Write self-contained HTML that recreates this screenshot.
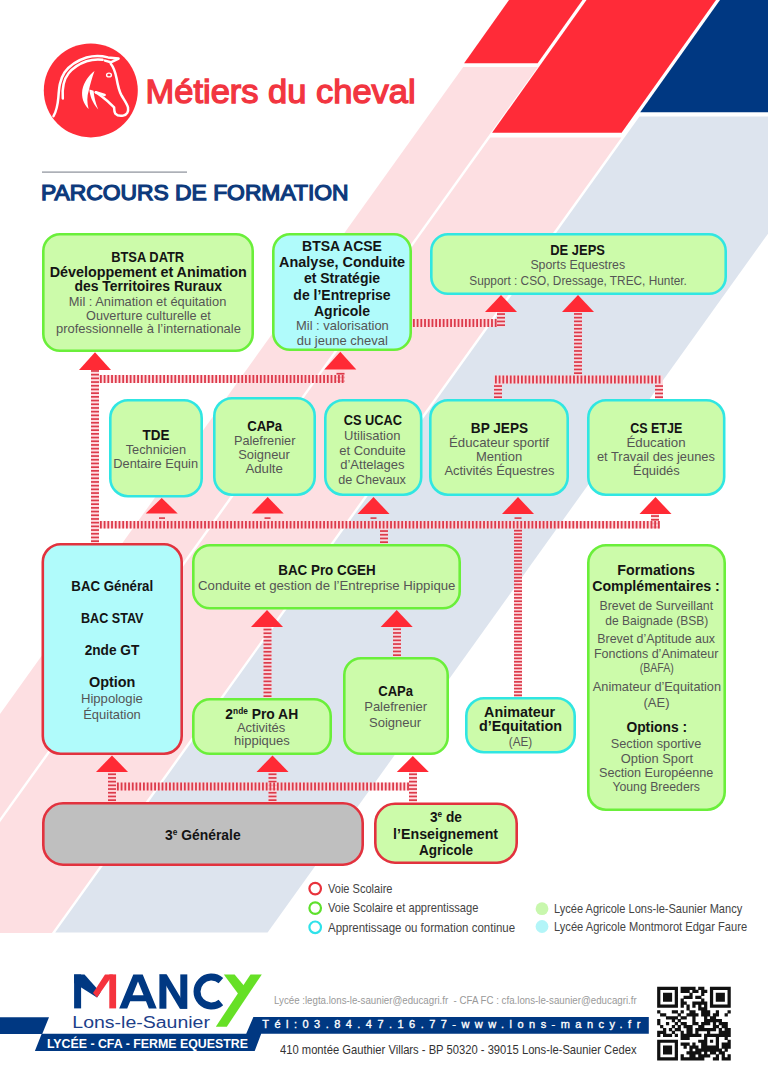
<!DOCTYPE html>
<html><head><meta charset="utf-8">
<style>
html,body{margin:0;padding:0;}
body{width:768px;height:1087px;position:relative;overflow:hidden;background:#fff;font-family:"Liberation Sans",sans-serif;}
.abs{position:absolute;}
.box{position:absolute;box-sizing:border-box;border:2.5px solid;}
.vst{position:absolute;background:repeating-linear-gradient(180deg,#dc3a4a 0 1.7px,#ffd0d5 1.7px 3.36px);}
.hst{position:absolute;background:repeating-linear-gradient(90deg,#dc3a4a 0 2px,#ffd0d5 2px 3.67px);}
.tl{position:absolute;width:400px;text-align:center;line-height:1;white-space:nowrap;}
.ll{position:absolute;line-height:1;white-space:nowrap;}
sup{font-size:0.6em;vertical-align:0;position:relative;top:-0.55em;line-height:0;}
</style></head><body>
<svg class="abs" style="left:0;top:0" width="768" height="1087" viewBox="0 0 768 1087"><polygon points="509.0,0.0 582.5,0.0 537.6,63.2 464.1,63.2" fill="#ff2b38"/><polygon points="463.2,67.0 537.8,67.0 -82.2,933.0 -156.8,933.0" fill="#fddfe2"/><polygon points="586.5,0.0 716.0,0.0 621.6,132.8 492.1,132.8" fill="#ff2b38"/><polygon points="490.3,137.5 621.4,137.5 51.9,933.0 -79.2,933.0" fill="#fddfe2"/><polygon points="720.0,0.0 936.9,0.0 856.3,112.2 640.2,112.2" fill="#003882"/><polygon points="639.5,116.5 851.9,116.5 267.6,932.5 55.2,932.5" fill="#dde4ee"/></svg>
<svg class="abs" style="left:0;top:0" width="768" height="1087"><rect x="43.30" y="234.30" width="209.40" height="116.40" rx="16.7" fill="#ccfbaa" stroke="#6aef3a" stroke-width="2.6"/><rect x="273.30" y="234.30" width="137.40" height="115.40" rx="16.7" fill="#b0fbfb" stroke="#6aef3a" stroke-width="2.6"/><rect x="431.30" y="234.30" width="294.40" height="59.40" rx="16.7" fill="#ccfbaa" stroke="#30e6e2" stroke-width="2.6"/><rect x="110.30" y="400.30" width="91.40" height="95.90" rx="17.7" fill="#ccfbaa" stroke="#30e6e2" stroke-width="2.6"/><rect x="214.30" y="398.30" width="100.40" height="96.40" rx="17.7" fill="#ccfbaa" stroke="#30e6e2" stroke-width="2.6"/><rect x="325.30" y="400.30" width="95.90" height="94.40" rx="17.7" fill="#ccfbaa" stroke="#30e6e2" stroke-width="2.6"/><rect x="430.30" y="400.30" width="137.40" height="94.40" rx="17.7" fill="#ccfbaa" stroke="#30e6e2" stroke-width="2.6"/><rect x="588.30" y="400.30" width="135.90" height="94.40" rx="17.7" fill="#ccfbaa" stroke="#30e6e2" stroke-width="2.6"/><rect x="42.80" y="544.30" width="138.90" height="209.40" rx="17.7" fill="#b0fbfb" stroke="#e2323e" stroke-width="2.6"/><rect x="193.30" y="545.30" width="266.40" height="62.90" rx="16.7" fill="#ccfbaa" stroke="#6aef3a" stroke-width="2.6"/><rect x="193.30" y="699.30" width="137.40" height="54.40" rx="16.7" fill="#ccfbaa" stroke="#6aef3a" stroke-width="2.6"/><rect x="344.30" y="658.30" width="103.40" height="95.40" rx="16.7" fill="#ccfbaa" stroke="#6aef3a" stroke-width="2.6"/><rect x="466.30" y="698.30" width="108.40" height="53.90" rx="17.7" fill="#ccfbaa" stroke="#30e6e2" stroke-width="2.6"/><rect x="588.30" y="545.30" width="136.40" height="264.40" rx="17.7" fill="#ccfbaa" stroke="#6aef3a" stroke-width="2.6"/><rect x="43.30" y="803.30" width="319.40" height="61.40" rx="19.7" fill="#bfbfbf" stroke="#e2323e" stroke-width="2.6"/><rect x="375.30" y="803.80" width="141.40" height="58.90" rx="19.7" fill="#ccfbaa" stroke="#e2323e" stroke-width="2.6"/></svg>
<svg class="abs" style="left:0;top:0" width="768" height="1087"><g fill="#dc3a4a"><rect x="91.00" y="370.00" width="8.00" height="173.00" fill="#ffd3d8" opacity="0.75"/><rect x="91.00" y="540.30" width="8.00" height="1.70"/><rect x="91.00" y="536.60" width="8.00" height="1.70"/><rect x="91.00" y="532.90" width="8.00" height="1.70"/><rect x="91.00" y="529.20" width="8.00" height="1.70"/><rect x="91.00" y="525.50" width="8.00" height="1.70"/><rect x="91.00" y="521.80" width="8.00" height="1.70"/><rect x="91.00" y="518.10" width="8.00" height="1.70"/><rect x="91.00" y="514.40" width="8.00" height="1.70"/><rect x="91.00" y="510.70" width="8.00" height="1.70"/><rect x="91.00" y="507.00" width="8.00" height="1.70"/><rect x="91.00" y="503.30" width="8.00" height="1.70"/><rect x="91.00" y="499.60" width="8.00" height="1.70"/><rect x="91.00" y="495.90" width="8.00" height="1.70"/><rect x="91.00" y="492.20" width="8.00" height="1.70"/><rect x="91.00" y="488.50" width="8.00" height="1.70"/><rect x="91.00" y="484.80" width="8.00" height="1.70"/><rect x="91.00" y="481.10" width="8.00" height="1.70"/><rect x="91.00" y="477.40" width="8.00" height="1.70"/><rect x="91.00" y="473.70" width="8.00" height="1.70"/><rect x="91.00" y="470.00" width="8.00" height="1.70"/><rect x="91.00" y="466.30" width="8.00" height="1.70"/><rect x="91.00" y="462.60" width="8.00" height="1.70"/><rect x="91.00" y="458.90" width="8.00" height="1.70"/><rect x="91.00" y="455.20" width="8.00" height="1.70"/><rect x="91.00" y="451.50" width="8.00" height="1.70"/><rect x="91.00" y="447.80" width="8.00" height="1.70"/><rect x="91.00" y="444.10" width="8.00" height="1.70"/><rect x="91.00" y="440.40" width="8.00" height="1.70"/><rect x="91.00" y="436.70" width="8.00" height="1.70"/><rect x="91.00" y="433.00" width="8.00" height="1.70"/><rect x="91.00" y="429.30" width="8.00" height="1.70"/><rect x="91.00" y="425.60" width="8.00" height="1.70"/><rect x="91.00" y="421.90" width="8.00" height="1.70"/><rect x="91.00" y="418.20" width="8.00" height="1.70"/><rect x="91.00" y="414.50" width="8.00" height="1.70"/><rect x="91.00" y="410.80" width="8.00" height="1.70"/><rect x="91.00" y="407.10" width="8.00" height="1.70"/><rect x="91.00" y="403.40" width="8.00" height="1.70"/><rect x="91.00" y="399.70" width="8.00" height="1.70"/><rect x="91.00" y="396.00" width="8.00" height="1.70"/><rect x="91.00" y="392.30" width="8.00" height="1.70"/><rect x="91.00" y="388.60" width="8.00" height="1.70"/><rect x="91.00" y="384.90" width="8.00" height="1.70"/><rect x="91.00" y="381.20" width="8.00" height="1.70"/><rect x="91.00" y="377.50" width="8.00" height="1.70"/><rect x="91.00" y="373.80" width="8.00" height="1.70"/><rect x="91.00" y="370.10" width="8.00" height="1.70"/><rect x="336.50" y="370.00" width="8.00" height="13.00" fill="#ffd3d8" opacity="0.75"/><rect x="336.50" y="380.30" width="8.00" height="1.70"/><rect x="336.50" y="376.60" width="8.00" height="1.70"/><rect x="336.50" y="372.90" width="8.00" height="1.70"/><rect x="497.00" y="312.00" width="8.00" height="15.00" fill="#ffd3d8" opacity="0.75"/><rect x="497.00" y="324.30" width="8.00" height="1.70"/><rect x="497.00" y="320.60" width="8.00" height="1.70"/><rect x="497.00" y="316.90" width="8.00" height="1.70"/><rect x="497.00" y="313.20" width="8.00" height="1.70"/><rect x="574.00" y="312.00" width="8.00" height="63.00" fill="#ffd3d8" opacity="0.75"/><rect x="574.00" y="372.30" width="8.00" height="1.70"/><rect x="574.00" y="368.60" width="8.00" height="1.70"/><rect x="574.00" y="364.90" width="8.00" height="1.70"/><rect x="574.00" y="361.20" width="8.00" height="1.70"/><rect x="574.00" y="357.50" width="8.00" height="1.70"/><rect x="574.00" y="353.80" width="8.00" height="1.70"/><rect x="574.00" y="350.10" width="8.00" height="1.70"/><rect x="574.00" y="346.40" width="8.00" height="1.70"/><rect x="574.00" y="342.70" width="8.00" height="1.70"/><rect x="574.00" y="339.00" width="8.00" height="1.70"/><rect x="574.00" y="335.30" width="8.00" height="1.70"/><rect x="574.00" y="331.60" width="8.00" height="1.70"/><rect x="574.00" y="327.90" width="8.00" height="1.70"/><rect x="574.00" y="324.20" width="8.00" height="1.70"/><rect x="574.00" y="320.50" width="8.00" height="1.70"/><rect x="574.00" y="316.80" width="8.00" height="1.70"/><rect x="574.00" y="313.10" width="8.00" height="1.70"/><rect x="494.00" y="383.00" width="8.00" height="16.00" fill="#ffd3d8" opacity="0.75"/><rect x="494.00" y="396.30" width="8.00" height="1.70"/><rect x="494.00" y="392.60" width="8.00" height="1.70"/><rect x="494.00" y="388.90" width="8.00" height="1.70"/><rect x="494.00" y="385.20" width="8.00" height="1.70"/><rect x="655.00" y="383.00" width="8.00" height="16.00" fill="#ffd3d8" opacity="0.75"/><rect x="655.00" y="396.30" width="8.00" height="1.70"/><rect x="655.00" y="392.60" width="8.00" height="1.70"/><rect x="655.00" y="388.90" width="8.00" height="1.70"/><rect x="655.00" y="385.20" width="8.00" height="1.70"/><rect x="380.00" y="528.50" width="8.00" height="15.50" fill="#ffd3d8" opacity="0.75"/><rect x="380.00" y="541.30" width="8.00" height="1.70"/><rect x="380.00" y="537.60" width="8.00" height="1.70"/><rect x="380.00" y="533.90" width="8.00" height="1.70"/><rect x="380.00" y="530.20" width="8.00" height="1.70"/><rect x="514.00" y="528.50" width="8.00" height="168.50" fill="#ffd3d8" opacity="0.75"/><rect x="514.00" y="694.47" width="8.00" height="1.70"/><rect x="514.00" y="691.11" width="8.00" height="1.70"/><rect x="514.00" y="687.75" width="8.00" height="1.70"/><rect x="514.00" y="684.39" width="8.00" height="1.70"/><rect x="514.00" y="681.03" width="8.00" height="1.70"/><rect x="514.00" y="677.67" width="8.00" height="1.70"/><rect x="514.00" y="674.31" width="8.00" height="1.70"/><rect x="514.00" y="670.95" width="8.00" height="1.70"/><rect x="514.00" y="667.59" width="8.00" height="1.70"/><rect x="514.00" y="664.23" width="8.00" height="1.70"/><rect x="514.00" y="660.87" width="8.00" height="1.70"/><rect x="514.00" y="657.51" width="8.00" height="1.70"/><rect x="514.00" y="654.15" width="8.00" height="1.70"/><rect x="514.00" y="650.79" width="8.00" height="1.70"/><rect x="514.00" y="647.43" width="8.00" height="1.70"/><rect x="514.00" y="644.07" width="8.00" height="1.70"/><rect x="514.00" y="640.71" width="8.00" height="1.70"/><rect x="514.00" y="637.35" width="8.00" height="1.70"/><rect x="514.00" y="633.99" width="8.00" height="1.70"/><rect x="514.00" y="630.63" width="8.00" height="1.70"/><rect x="514.00" y="627.27" width="8.00" height="1.70"/><rect x="514.00" y="623.91" width="8.00" height="1.70"/><rect x="514.00" y="620.55" width="8.00" height="1.70"/><rect x="514.00" y="617.19" width="8.00" height="1.70"/><rect x="514.00" y="613.83" width="8.00" height="1.70"/><rect x="514.00" y="610.47" width="8.00" height="1.70"/><rect x="514.00" y="607.11" width="8.00" height="1.70"/><rect x="514.00" y="603.75" width="8.00" height="1.70"/><rect x="514.00" y="600.39" width="8.00" height="1.70"/><rect x="514.00" y="597.03" width="8.00" height="1.70"/><rect x="514.00" y="593.67" width="8.00" height="1.70"/><rect x="514.00" y="590.31" width="8.00" height="1.70"/><rect x="514.00" y="586.95" width="8.00" height="1.70"/><rect x="514.00" y="583.59" width="8.00" height="1.70"/><rect x="514.00" y="580.23" width="8.00" height="1.70"/><rect x="514.00" y="576.87" width="8.00" height="1.70"/><rect x="514.00" y="573.51" width="8.00" height="1.70"/><rect x="514.00" y="570.15" width="8.00" height="1.70"/><rect x="514.00" y="566.79" width="8.00" height="1.70"/><rect x="514.00" y="563.43" width="8.00" height="1.70"/><rect x="514.00" y="560.07" width="8.00" height="1.70"/><rect x="514.00" y="556.71" width="8.00" height="1.70"/><rect x="514.00" y="553.35" width="8.00" height="1.70"/><rect x="514.00" y="549.99" width="8.00" height="1.70"/><rect x="514.00" y="546.63" width="8.00" height="1.70"/><rect x="514.00" y="543.27" width="8.00" height="1.70"/><rect x="514.00" y="539.91" width="8.00" height="1.70"/><rect x="514.00" y="536.55" width="8.00" height="1.70"/><rect x="514.00" y="533.19" width="8.00" height="1.70"/><rect x="514.00" y="529.83" width="8.00" height="1.70"/><rect x="651.00" y="514.00" width="8.00" height="15.00" fill="#ffd3d8" opacity="0.75"/><rect x="651.00" y="526.30" width="8.00" height="1.70"/><rect x="651.00" y="522.60" width="8.00" height="1.70"/><rect x="651.00" y="518.90" width="8.00" height="1.70"/><rect x="651.00" y="515.20" width="8.00" height="1.70"/><rect x="263.50" y="627.00" width="8.00" height="71.00" fill="#ffd3d8" opacity="0.75"/><rect x="263.50" y="695.30" width="8.00" height="1.70"/><rect x="263.50" y="691.60" width="8.00" height="1.70"/><rect x="263.50" y="687.90" width="8.00" height="1.70"/><rect x="263.50" y="684.20" width="8.00" height="1.70"/><rect x="263.50" y="680.50" width="8.00" height="1.70"/><rect x="263.50" y="676.80" width="8.00" height="1.70"/><rect x="263.50" y="673.10" width="8.00" height="1.70"/><rect x="263.50" y="669.40" width="8.00" height="1.70"/><rect x="263.50" y="665.70" width="8.00" height="1.70"/><rect x="263.50" y="662.00" width="8.00" height="1.70"/><rect x="263.50" y="658.30" width="8.00" height="1.70"/><rect x="263.50" y="654.60" width="8.00" height="1.70"/><rect x="263.50" y="650.90" width="8.00" height="1.70"/><rect x="263.50" y="647.20" width="8.00" height="1.70"/><rect x="263.50" y="643.50" width="8.00" height="1.70"/><rect x="263.50" y="639.80" width="8.00" height="1.70"/><rect x="263.50" y="636.10" width="8.00" height="1.70"/><rect x="263.50" y="632.40" width="8.00" height="1.70"/><rect x="263.50" y="628.70" width="8.00" height="1.70"/><rect x="393.00" y="627.00" width="8.00" height="30.00" fill="#ffd3d8" opacity="0.75"/><rect x="393.00" y="654.30" width="8.00" height="1.70"/><rect x="393.00" y="650.60" width="8.00" height="1.70"/><rect x="393.00" y="646.90" width="8.00" height="1.70"/><rect x="393.00" y="643.20" width="8.00" height="1.70"/><rect x="393.00" y="639.50" width="8.00" height="1.70"/><rect x="393.00" y="635.80" width="8.00" height="1.70"/><rect x="393.00" y="632.10" width="8.00" height="1.70"/><rect x="393.00" y="628.40" width="8.00" height="1.70"/><rect x="108.00" y="772.00" width="8.00" height="30.00" fill="#ffd3d8" opacity="0.75"/><rect x="108.00" y="799.30" width="8.00" height="1.70"/><rect x="108.00" y="795.60" width="8.00" height="1.70"/><rect x="108.00" y="791.90" width="8.00" height="1.70"/><rect x="108.00" y="788.20" width="8.00" height="1.70"/><rect x="108.00" y="784.50" width="8.00" height="1.70"/><rect x="108.00" y="780.80" width="8.00" height="1.70"/><rect x="108.00" y="777.10" width="8.00" height="1.70"/><rect x="108.00" y="773.40" width="8.00" height="1.70"/><rect x="268.50" y="772.00" width="8.00" height="30.00" fill="#ffd3d8" opacity="0.75"/><rect x="268.50" y="799.30" width="8.00" height="1.70"/><rect x="268.50" y="795.60" width="8.00" height="1.70"/><rect x="268.50" y="791.90" width="8.00" height="1.70"/><rect x="268.50" y="788.20" width="8.00" height="1.70"/><rect x="268.50" y="784.50" width="8.00" height="1.70"/><rect x="268.50" y="780.80" width="8.00" height="1.70"/><rect x="268.50" y="777.10" width="8.00" height="1.70"/><rect x="268.50" y="773.40" width="8.00" height="1.70"/><rect x="409.00" y="772.00" width="8.00" height="30.00" fill="#ffd3d8" opacity="0.75"/><rect x="409.00" y="799.30" width="8.00" height="1.70"/><rect x="409.00" y="795.60" width="8.00" height="1.70"/><rect x="409.00" y="791.90" width="8.00" height="1.70"/><rect x="409.00" y="788.20" width="8.00" height="1.70"/><rect x="409.00" y="784.50" width="8.00" height="1.70"/><rect x="409.00" y="780.80" width="8.00" height="1.70"/><rect x="409.00" y="777.10" width="8.00" height="1.70"/><rect x="409.00" y="773.40" width="8.00" height="1.70"/><rect x="99.00" y="375.00" width="245.50" height="8.00" fill="#ffd3d8" opacity="0.75"/><rect x="99.96" y="375.00" width="1.80" height="8.00"/><rect x="103.68" y="375.00" width="1.80" height="8.00"/><rect x="107.40" y="375.00" width="1.80" height="8.00"/><rect x="111.12" y="375.00" width="1.80" height="8.00"/><rect x="114.84" y="375.00" width="1.80" height="8.00"/><rect x="118.56" y="375.00" width="1.80" height="8.00"/><rect x="122.28" y="375.00" width="1.80" height="8.00"/><rect x="126.00" y="375.00" width="1.80" height="8.00"/><rect x="129.72" y="375.00" width="1.80" height="8.00"/><rect x="133.44" y="375.00" width="1.80" height="8.00"/><rect x="137.16" y="375.00" width="1.80" height="8.00"/><rect x="140.88" y="375.00" width="1.80" height="8.00"/><rect x="144.60" y="375.00" width="1.80" height="8.00"/><rect x="148.32" y="375.00" width="1.80" height="8.00"/><rect x="152.04" y="375.00" width="1.80" height="8.00"/><rect x="155.76" y="375.00" width="1.80" height="8.00"/><rect x="159.48" y="375.00" width="1.80" height="8.00"/><rect x="163.20" y="375.00" width="1.80" height="8.00"/><rect x="166.92" y="375.00" width="1.80" height="8.00"/><rect x="170.64" y="375.00" width="1.80" height="8.00"/><rect x="174.36" y="375.00" width="1.80" height="8.00"/><rect x="178.08" y="375.00" width="1.80" height="8.00"/><rect x="181.80" y="375.00" width="1.80" height="8.00"/><rect x="185.52" y="375.00" width="1.80" height="8.00"/><rect x="189.24" y="375.00" width="1.80" height="8.00"/><rect x="192.96" y="375.00" width="1.80" height="8.00"/><rect x="196.68" y="375.00" width="1.80" height="8.00"/><rect x="200.40" y="375.00" width="1.80" height="8.00"/><rect x="204.12" y="375.00" width="1.80" height="8.00"/><rect x="207.84" y="375.00" width="1.80" height="8.00"/><rect x="211.56" y="375.00" width="1.80" height="8.00"/><rect x="215.28" y="375.00" width="1.80" height="8.00"/><rect x="219.00" y="375.00" width="1.80" height="8.00"/><rect x="222.72" y="375.00" width="1.80" height="8.00"/><rect x="226.44" y="375.00" width="1.80" height="8.00"/><rect x="230.16" y="375.00" width="1.80" height="8.00"/><rect x="233.88" y="375.00" width="1.80" height="8.00"/><rect x="237.60" y="375.00" width="1.80" height="8.00"/><rect x="241.32" y="375.00" width="1.80" height="8.00"/><rect x="245.04" y="375.00" width="1.80" height="8.00"/><rect x="248.76" y="375.00" width="1.80" height="8.00"/><rect x="252.48" y="375.00" width="1.80" height="8.00"/><rect x="256.20" y="375.00" width="1.80" height="8.00"/><rect x="259.92" y="375.00" width="1.80" height="8.00"/><rect x="263.64" y="375.00" width="1.80" height="8.00"/><rect x="267.36" y="375.00" width="1.80" height="8.00"/><rect x="271.08" y="375.00" width="1.80" height="8.00"/><rect x="274.80" y="375.00" width="1.80" height="8.00"/><rect x="278.52" y="375.00" width="1.80" height="8.00"/><rect x="282.24" y="375.00" width="1.80" height="8.00"/><rect x="285.96" y="375.00" width="1.80" height="8.00"/><rect x="289.68" y="375.00" width="1.80" height="8.00"/><rect x="293.40" y="375.00" width="1.80" height="8.00"/><rect x="297.12" y="375.00" width="1.80" height="8.00"/><rect x="300.84" y="375.00" width="1.80" height="8.00"/><rect x="304.56" y="375.00" width="1.80" height="8.00"/><rect x="308.28" y="375.00" width="1.80" height="8.00"/><rect x="312.00" y="375.00" width="1.80" height="8.00"/><rect x="315.72" y="375.00" width="1.80" height="8.00"/><rect x="319.44" y="375.00" width="1.80" height="8.00"/><rect x="323.16" y="375.00" width="1.80" height="8.00"/><rect x="326.88" y="375.00" width="1.80" height="8.00"/><rect x="330.60" y="375.00" width="1.80" height="8.00"/><rect x="334.32" y="375.00" width="1.80" height="8.00"/><rect x="338.04" y="375.00" width="1.80" height="8.00"/><rect x="341.76" y="375.00" width="1.80" height="8.00"/><rect x="412.00" y="319.00" width="85.00" height="8.00" fill="#ffd3d8" opacity="0.75"/><rect x="412.96" y="319.00" width="1.80" height="8.00"/><rect x="416.68" y="319.00" width="1.80" height="8.00"/><rect x="420.40" y="319.00" width="1.80" height="8.00"/><rect x="424.12" y="319.00" width="1.80" height="8.00"/><rect x="427.84" y="319.00" width="1.80" height="8.00"/><rect x="431.56" y="319.00" width="1.80" height="8.00"/><rect x="435.28" y="319.00" width="1.80" height="8.00"/><rect x="439.00" y="319.00" width="1.80" height="8.00"/><rect x="442.72" y="319.00" width="1.80" height="8.00"/><rect x="446.44" y="319.00" width="1.80" height="8.00"/><rect x="450.16" y="319.00" width="1.80" height="8.00"/><rect x="453.88" y="319.00" width="1.80" height="8.00"/><rect x="457.60" y="319.00" width="1.80" height="8.00"/><rect x="461.32" y="319.00" width="1.80" height="8.00"/><rect x="465.04" y="319.00" width="1.80" height="8.00"/><rect x="468.76" y="319.00" width="1.80" height="8.00"/><rect x="472.48" y="319.00" width="1.80" height="8.00"/><rect x="476.20" y="319.00" width="1.80" height="8.00"/><rect x="479.92" y="319.00" width="1.80" height="8.00"/><rect x="483.64" y="319.00" width="1.80" height="8.00"/><rect x="487.36" y="319.00" width="1.80" height="8.00"/><rect x="491.08" y="319.00" width="1.80" height="8.00"/><rect x="494.80" y="319.00" width="1.80" height="8.00"/><rect x="494.00" y="375.50" width="169.00" height="8.00" fill="#ffd3d8" opacity="0.75"/><rect x="494.96" y="375.50" width="1.80" height="8.00"/><rect x="498.68" y="375.50" width="1.80" height="8.00"/><rect x="502.40" y="375.50" width="1.80" height="8.00"/><rect x="506.12" y="375.50" width="1.80" height="8.00"/><rect x="509.84" y="375.50" width="1.80" height="8.00"/><rect x="513.56" y="375.50" width="1.80" height="8.00"/><rect x="517.28" y="375.50" width="1.80" height="8.00"/><rect x="521.00" y="375.50" width="1.80" height="8.00"/><rect x="524.72" y="375.50" width="1.80" height="8.00"/><rect x="528.44" y="375.50" width="1.80" height="8.00"/><rect x="532.16" y="375.50" width="1.80" height="8.00"/><rect x="535.88" y="375.50" width="1.80" height="8.00"/><rect x="539.60" y="375.50" width="1.80" height="8.00"/><rect x="543.32" y="375.50" width="1.80" height="8.00"/><rect x="547.04" y="375.50" width="1.80" height="8.00"/><rect x="550.76" y="375.50" width="1.80" height="8.00"/><rect x="554.48" y="375.50" width="1.80" height="8.00"/><rect x="558.20" y="375.50" width="1.80" height="8.00"/><rect x="561.92" y="375.50" width="1.80" height="8.00"/><rect x="565.64" y="375.50" width="1.80" height="8.00"/><rect x="569.36" y="375.50" width="1.80" height="8.00"/><rect x="573.08" y="375.50" width="1.80" height="8.00"/><rect x="576.80" y="375.50" width="1.80" height="8.00"/><rect x="580.52" y="375.50" width="1.80" height="8.00"/><rect x="584.24" y="375.50" width="1.80" height="8.00"/><rect x="587.96" y="375.50" width="1.80" height="8.00"/><rect x="591.68" y="375.50" width="1.80" height="8.00"/><rect x="595.40" y="375.50" width="1.80" height="8.00"/><rect x="599.12" y="375.50" width="1.80" height="8.00"/><rect x="602.84" y="375.50" width="1.80" height="8.00"/><rect x="606.56" y="375.50" width="1.80" height="8.00"/><rect x="610.28" y="375.50" width="1.80" height="8.00"/><rect x="614.00" y="375.50" width="1.80" height="8.00"/><rect x="617.72" y="375.50" width="1.80" height="8.00"/><rect x="621.44" y="375.50" width="1.80" height="8.00"/><rect x="625.16" y="375.50" width="1.80" height="8.00"/><rect x="628.88" y="375.50" width="1.80" height="8.00"/><rect x="632.60" y="375.50" width="1.80" height="8.00"/><rect x="636.32" y="375.50" width="1.80" height="8.00"/><rect x="640.04" y="375.50" width="1.80" height="8.00"/><rect x="643.76" y="375.50" width="1.80" height="8.00"/><rect x="647.48" y="375.50" width="1.80" height="8.00"/><rect x="651.20" y="375.50" width="1.80" height="8.00"/><rect x="654.92" y="375.50" width="1.80" height="8.00"/><rect x="658.64" y="375.50" width="1.80" height="8.00"/><rect x="99.00" y="521.00" width="561.00" height="7.50" fill="#ffd3d8" opacity="0.75"/><rect x="99.96" y="521.00" width="1.80" height="7.50"/><rect x="103.68" y="521.00" width="1.80" height="7.50"/><rect x="107.40" y="521.00" width="1.80" height="7.50"/><rect x="111.12" y="521.00" width="1.80" height="7.50"/><rect x="114.84" y="521.00" width="1.80" height="7.50"/><rect x="118.56" y="521.00" width="1.80" height="7.50"/><rect x="122.28" y="521.00" width="1.80" height="7.50"/><rect x="126.00" y="521.00" width="1.80" height="7.50"/><rect x="129.72" y="521.00" width="1.80" height="7.50"/><rect x="133.44" y="521.00" width="1.80" height="7.50"/><rect x="137.16" y="521.00" width="1.80" height="7.50"/><rect x="140.88" y="521.00" width="1.80" height="7.50"/><rect x="144.60" y="521.00" width="1.80" height="7.50"/><rect x="148.32" y="521.00" width="1.80" height="7.50"/><rect x="152.04" y="521.00" width="1.80" height="7.50"/><rect x="155.76" y="521.00" width="1.80" height="7.50"/><rect x="159.48" y="521.00" width="1.80" height="7.50"/><rect x="163.20" y="521.00" width="1.80" height="7.50"/><rect x="166.92" y="521.00" width="1.80" height="7.50"/><rect x="170.64" y="521.00" width="1.80" height="7.50"/><rect x="174.36" y="521.00" width="1.80" height="7.50"/><rect x="178.08" y="521.00" width="1.80" height="7.50"/><rect x="181.80" y="521.00" width="1.80" height="7.50"/><rect x="185.52" y="521.00" width="1.80" height="7.50"/><rect x="189.24" y="521.00" width="1.80" height="7.50"/><rect x="192.96" y="521.00" width="1.80" height="7.50"/><rect x="196.68" y="521.00" width="1.80" height="7.50"/><rect x="200.40" y="521.00" width="1.80" height="7.50"/><rect x="204.12" y="521.00" width="1.80" height="7.50"/><rect x="207.84" y="521.00" width="1.80" height="7.50"/><rect x="211.56" y="521.00" width="1.80" height="7.50"/><rect x="215.28" y="521.00" width="1.80" height="7.50"/><rect x="219.00" y="521.00" width="1.80" height="7.50"/><rect x="222.72" y="521.00" width="1.80" height="7.50"/><rect x="226.44" y="521.00" width="1.80" height="7.50"/><rect x="230.16" y="521.00" width="1.80" height="7.50"/><rect x="233.88" y="521.00" width="1.80" height="7.50"/><rect x="237.60" y="521.00" width="1.80" height="7.50"/><rect x="241.32" y="521.00" width="1.80" height="7.50"/><rect x="245.04" y="521.00" width="1.80" height="7.50"/><rect x="248.76" y="521.00" width="1.80" height="7.50"/><rect x="252.48" y="521.00" width="1.80" height="7.50"/><rect x="256.20" y="521.00" width="1.80" height="7.50"/><rect x="259.92" y="521.00" width="1.80" height="7.50"/><rect x="263.64" y="521.00" width="1.80" height="7.50"/><rect x="267.36" y="521.00" width="1.80" height="7.50"/><rect x="271.08" y="521.00" width="1.80" height="7.50"/><rect x="274.80" y="521.00" width="1.80" height="7.50"/><rect x="278.52" y="521.00" width="1.80" height="7.50"/><rect x="282.24" y="521.00" width="1.80" height="7.50"/><rect x="285.96" y="521.00" width="1.80" height="7.50"/><rect x="289.68" y="521.00" width="1.80" height="7.50"/><rect x="293.40" y="521.00" width="1.80" height="7.50"/><rect x="297.12" y="521.00" width="1.80" height="7.50"/><rect x="300.84" y="521.00" width="1.80" height="7.50"/><rect x="304.56" y="521.00" width="1.80" height="7.50"/><rect x="308.28" y="521.00" width="1.80" height="7.50"/><rect x="312.00" y="521.00" width="1.80" height="7.50"/><rect x="315.72" y="521.00" width="1.80" height="7.50"/><rect x="319.44" y="521.00" width="1.80" height="7.50"/><rect x="323.16" y="521.00" width="1.80" height="7.50"/><rect x="326.88" y="521.00" width="1.80" height="7.50"/><rect x="330.60" y="521.00" width="1.80" height="7.50"/><rect x="334.32" y="521.00" width="1.80" height="7.50"/><rect x="338.04" y="521.00" width="1.80" height="7.50"/><rect x="341.76" y="521.00" width="1.80" height="7.50"/><rect x="345.48" y="521.00" width="1.80" height="7.50"/><rect x="349.20" y="521.00" width="1.80" height="7.50"/><rect x="352.92" y="521.00" width="1.80" height="7.50"/><rect x="356.64" y="521.00" width="1.80" height="7.50"/><rect x="360.36" y="521.00" width="1.80" height="7.50"/><rect x="364.08" y="521.00" width="1.80" height="7.50"/><rect x="367.80" y="521.00" width="1.80" height="7.50"/><rect x="371.52" y="521.00" width="1.80" height="7.50"/><rect x="375.24" y="521.00" width="1.80" height="7.50"/><rect x="378.96" y="521.00" width="1.80" height="7.50"/><rect x="382.68" y="521.00" width="1.80" height="7.50"/><rect x="386.40" y="521.00" width="1.80" height="7.50"/><rect x="390.12" y="521.00" width="1.80" height="7.50"/><rect x="393.84" y="521.00" width="1.80" height="7.50"/><rect x="397.56" y="521.00" width="1.80" height="7.50"/><rect x="401.28" y="521.00" width="1.80" height="7.50"/><rect x="405.00" y="521.00" width="1.80" height="7.50"/><rect x="408.72" y="521.00" width="1.80" height="7.50"/><rect x="412.44" y="521.00" width="1.80" height="7.50"/><rect x="416.16" y="521.00" width="1.80" height="7.50"/><rect x="419.88" y="521.00" width="1.80" height="7.50"/><rect x="423.60" y="521.00" width="1.80" height="7.50"/><rect x="427.32" y="521.00" width="1.80" height="7.50"/><rect x="431.04" y="521.00" width="1.80" height="7.50"/><rect x="434.76" y="521.00" width="1.80" height="7.50"/><rect x="438.48" y="521.00" width="1.80" height="7.50"/><rect x="442.20" y="521.00" width="1.80" height="7.50"/><rect x="445.92" y="521.00" width="1.80" height="7.50"/><rect x="449.64" y="521.00" width="1.80" height="7.50"/><rect x="453.36" y="521.00" width="1.80" height="7.50"/><rect x="457.08" y="521.00" width="1.80" height="7.50"/><rect x="460.80" y="521.00" width="1.80" height="7.50"/><rect x="464.52" y="521.00" width="1.80" height="7.50"/><rect x="468.24" y="521.00" width="1.80" height="7.50"/><rect x="471.96" y="521.00" width="1.80" height="7.50"/><rect x="475.68" y="521.00" width="1.80" height="7.50"/><rect x="479.40" y="521.00" width="1.80" height="7.50"/><rect x="483.12" y="521.00" width="1.80" height="7.50"/><rect x="486.84" y="521.00" width="1.80" height="7.50"/><rect x="490.56" y="521.00" width="1.80" height="7.50"/><rect x="494.28" y="521.00" width="1.80" height="7.50"/><rect x="498.00" y="521.00" width="1.80" height="7.50"/><rect x="501.72" y="521.00" width="1.80" height="7.50"/><rect x="505.44" y="521.00" width="1.80" height="7.50"/><rect x="509.16" y="521.00" width="1.80" height="7.50"/><rect x="512.88" y="521.00" width="1.80" height="7.50"/><rect x="516.60" y="521.00" width="1.80" height="7.50"/><rect x="520.32" y="521.00" width="1.80" height="7.50"/><rect x="524.04" y="521.00" width="1.80" height="7.50"/><rect x="527.76" y="521.00" width="1.80" height="7.50"/><rect x="531.48" y="521.00" width="1.80" height="7.50"/><rect x="535.20" y="521.00" width="1.80" height="7.50"/><rect x="538.92" y="521.00" width="1.80" height="7.50"/><rect x="542.64" y="521.00" width="1.80" height="7.50"/><rect x="546.36" y="521.00" width="1.80" height="7.50"/><rect x="550.08" y="521.00" width="1.80" height="7.50"/><rect x="553.80" y="521.00" width="1.80" height="7.50"/><rect x="557.52" y="521.00" width="1.80" height="7.50"/><rect x="561.24" y="521.00" width="1.80" height="7.50"/><rect x="564.96" y="521.00" width="1.80" height="7.50"/><rect x="568.68" y="521.00" width="1.80" height="7.50"/><rect x="572.40" y="521.00" width="1.80" height="7.50"/><rect x="576.12" y="521.00" width="1.80" height="7.50"/><rect x="579.84" y="521.00" width="1.80" height="7.50"/><rect x="583.56" y="521.00" width="1.80" height="7.50"/><rect x="587.28" y="521.00" width="1.80" height="7.50"/><rect x="591.00" y="521.00" width="1.80" height="7.50"/><rect x="594.72" y="521.00" width="1.80" height="7.50"/><rect x="598.44" y="521.00" width="1.80" height="7.50"/><rect x="602.16" y="521.00" width="1.80" height="7.50"/><rect x="605.88" y="521.00" width="1.80" height="7.50"/><rect x="609.60" y="521.00" width="1.80" height="7.50"/><rect x="613.32" y="521.00" width="1.80" height="7.50"/><rect x="617.04" y="521.00" width="1.80" height="7.50"/><rect x="620.76" y="521.00" width="1.80" height="7.50"/><rect x="624.48" y="521.00" width="1.80" height="7.50"/><rect x="628.20" y="521.00" width="1.80" height="7.50"/><rect x="631.92" y="521.00" width="1.80" height="7.50"/><rect x="635.64" y="521.00" width="1.80" height="7.50"/><rect x="639.36" y="521.00" width="1.80" height="7.50"/><rect x="643.08" y="521.00" width="1.80" height="7.50"/><rect x="646.80" y="521.00" width="1.80" height="7.50"/><rect x="650.52" y="521.00" width="1.80" height="7.50"/><rect x="654.24" y="521.00" width="1.80" height="7.50"/><rect x="657.96" y="521.00" width="1.80" height="7.50"/><rect x="116.00" y="782.50" width="293.00" height="8.00" fill="#ffd3d8" opacity="0.75"/><rect x="116.96" y="782.50" width="1.80" height="8.00"/><rect x="120.68" y="782.50" width="1.80" height="8.00"/><rect x="124.40" y="782.50" width="1.80" height="8.00"/><rect x="128.12" y="782.50" width="1.80" height="8.00"/><rect x="131.84" y="782.50" width="1.80" height="8.00"/><rect x="135.56" y="782.50" width="1.80" height="8.00"/><rect x="139.28" y="782.50" width="1.80" height="8.00"/><rect x="143.00" y="782.50" width="1.80" height="8.00"/><rect x="146.72" y="782.50" width="1.80" height="8.00"/><rect x="150.44" y="782.50" width="1.80" height="8.00"/><rect x="154.16" y="782.50" width="1.80" height="8.00"/><rect x="157.88" y="782.50" width="1.80" height="8.00"/><rect x="161.60" y="782.50" width="1.80" height="8.00"/><rect x="165.32" y="782.50" width="1.80" height="8.00"/><rect x="169.04" y="782.50" width="1.80" height="8.00"/><rect x="172.76" y="782.50" width="1.80" height="8.00"/><rect x="176.48" y="782.50" width="1.80" height="8.00"/><rect x="180.20" y="782.50" width="1.80" height="8.00"/><rect x="183.92" y="782.50" width="1.80" height="8.00"/><rect x="187.64" y="782.50" width="1.80" height="8.00"/><rect x="191.36" y="782.50" width="1.80" height="8.00"/><rect x="195.08" y="782.50" width="1.80" height="8.00"/><rect x="198.80" y="782.50" width="1.80" height="8.00"/><rect x="202.52" y="782.50" width="1.80" height="8.00"/><rect x="206.24" y="782.50" width="1.80" height="8.00"/><rect x="209.96" y="782.50" width="1.80" height="8.00"/><rect x="213.68" y="782.50" width="1.80" height="8.00"/><rect x="217.40" y="782.50" width="1.80" height="8.00"/><rect x="221.12" y="782.50" width="1.80" height="8.00"/><rect x="224.84" y="782.50" width="1.80" height="8.00"/><rect x="228.56" y="782.50" width="1.80" height="8.00"/><rect x="232.28" y="782.50" width="1.80" height="8.00"/><rect x="236.00" y="782.50" width="1.80" height="8.00"/><rect x="239.72" y="782.50" width="1.80" height="8.00"/><rect x="243.44" y="782.50" width="1.80" height="8.00"/><rect x="247.16" y="782.50" width="1.80" height="8.00"/><rect x="250.88" y="782.50" width="1.80" height="8.00"/><rect x="254.60" y="782.50" width="1.80" height="8.00"/><rect x="258.32" y="782.50" width="1.80" height="8.00"/><rect x="262.04" y="782.50" width="1.80" height="8.00"/><rect x="265.76" y="782.50" width="1.80" height="8.00"/><rect x="269.48" y="782.50" width="1.80" height="8.00"/><rect x="273.20" y="782.50" width="1.80" height="8.00"/><rect x="276.92" y="782.50" width="1.80" height="8.00"/><rect x="280.64" y="782.50" width="1.80" height="8.00"/><rect x="284.36" y="782.50" width="1.80" height="8.00"/><rect x="288.08" y="782.50" width="1.80" height="8.00"/><rect x="291.80" y="782.50" width="1.80" height="8.00"/><rect x="295.52" y="782.50" width="1.80" height="8.00"/><rect x="299.24" y="782.50" width="1.80" height="8.00"/><rect x="302.96" y="782.50" width="1.80" height="8.00"/><rect x="306.68" y="782.50" width="1.80" height="8.00"/><rect x="310.40" y="782.50" width="1.80" height="8.00"/><rect x="314.12" y="782.50" width="1.80" height="8.00"/><rect x="317.84" y="782.50" width="1.80" height="8.00"/><rect x="321.56" y="782.50" width="1.80" height="8.00"/><rect x="325.28" y="782.50" width="1.80" height="8.00"/><rect x="329.00" y="782.50" width="1.80" height="8.00"/><rect x="332.72" y="782.50" width="1.80" height="8.00"/><rect x="336.44" y="782.50" width="1.80" height="8.00"/><rect x="340.16" y="782.50" width="1.80" height="8.00"/><rect x="343.88" y="782.50" width="1.80" height="8.00"/><rect x="347.60" y="782.50" width="1.80" height="8.00"/><rect x="351.32" y="782.50" width="1.80" height="8.00"/><rect x="355.04" y="782.50" width="1.80" height="8.00"/><rect x="358.76" y="782.50" width="1.80" height="8.00"/><rect x="362.48" y="782.50" width="1.80" height="8.00"/><rect x="366.20" y="782.50" width="1.80" height="8.00"/><rect x="369.92" y="782.50" width="1.80" height="8.00"/><rect x="373.64" y="782.50" width="1.80" height="8.00"/><rect x="377.36" y="782.50" width="1.80" height="8.00"/><rect x="381.08" y="782.50" width="1.80" height="8.00"/><rect x="384.80" y="782.50" width="1.80" height="8.00"/><rect x="388.52" y="782.50" width="1.80" height="8.00"/><rect x="392.24" y="782.50" width="1.80" height="8.00"/><rect x="395.96" y="782.50" width="1.80" height="8.00"/><rect x="399.68" y="782.50" width="1.80" height="8.00"/><rect x="403.40" y="782.50" width="1.80" height="8.00"/><rect x="407.12" y="782.50" width="1.80" height="8.00"/><rect x="159.00" y="517.3" width="6.00" height="1.6"/><rect x="264.50" y="517.3" width="6.00" height="1.6"/><rect x="370.50" y="517.3" width="6.00" height="1.6"/><rect x="514.50" y="517.3" width="7.00" height="1.6"/></g></svg>
<svg class="abs" style="left:0;top:0" width="768" height="1087"><polygon points="95.0,352.3 111.0,370.0 79.0,370.0" fill="#ff2a35"/><polygon points="340.3,351.8 356.3,369.5 324.3,369.5" fill="#ff2a35"/><polygon points="501.0,295.0 517.0,312.0 485.0,312.0" fill="#ff2a35"/><polygon points="578.0,295.0 594.0,312.0 562.0,312.0" fill="#ff2a35"/><polygon points="161.7,498.0 177.7,513.5 145.7,513.5" fill="#ff2a35"/><polygon points="267.7,497.0 283.7,513.5 251.7,513.5" fill="#ff2a35"/><polygon points="373.5,497.0 389.5,514.0 357.5,514.0" fill="#ff2a35"/><polygon points="518.0,497.0 534.0,514.0 502.0,514.0" fill="#ff2a35"/><polygon points="655.5,497.0 671.5,514.0 639.5,514.0" fill="#ff2a35"/><polygon points="267.0,610.0 283.0,627.0 251.0,627.0" fill="#ff2a35"/><polygon points="396.7,610.0 412.7,627.0 380.7,627.0" fill="#ff2a35"/><polygon points="112.0,755.4 128.0,772.0 96.0,772.0" fill="#ff2a35"/><polygon points="272.5,755.4 288.5,772.0 256.5,772.0" fill="#ff2a35"/><polygon points="412.8,756.0 428.8,772.0 396.8,772.0" fill="#ff2a35"/></svg>
<div class="tl" style="left:-52.0px;top:250.35px;font-size:14.0px;font-weight:bold;color:#141414"><span id="t0" style="display:inline-block;transform:scaleX(0.9202);">BTSA DATR</span></div>
<div class="tl" style="left:-52.0px;top:264.65px;font-size:14.0px;font-weight:bold;color:#141414"><span id="t1" style="display:inline-block;transform:scaleX(1.0239);">Développement et Animation</span></div>
<div class="tl" style="left:-52.0px;top:279.05px;font-size:14.0px;font-weight:bold;color:#141414"><span id="t2" style="display:inline-block;transform:scaleX(0.9949);">des Territoires Ruraux</span></div>
<div class="tl" style="left:-52.0px;top:294.57px;font-size:13.5px;font-weight:normal;color:#555555"><span id="t3" style="display:inline-block;transform:scaleX(0.9540);">Mil : Animation et équitation</span></div>
<div class="tl" style="left:-52.0px;top:308.97px;font-size:13.5px;font-weight:normal;color:#555555"><span id="t4" style="display:inline-block;transform:scaleX(0.9382);">Ouverture culturelle et</span></div>
<div class="tl" style="left:-52.0px;top:322.47px;font-size:13.5px;font-weight:normal;color:#555555"><span id="t5" style="display:inline-block;transform:scaleX(0.9581);">professionnelle à l’internationale</span></div>
<div class="tl" style="left:142.0px;top:239.05px;font-size:14.0px;font-weight:bold;color:#141414"><span id="t6" style="display:inline-block;">BTSA ACSE</span></div>
<div class="tl" style="left:142.0px;top:255.35px;font-size:14.0px;font-weight:bold;color:#141414"><span id="t7" style="display:inline-block;transform:scaleX(1.0316);">Analyse, Conduite</span></div>
<div class="tl" style="left:142.0px;top:271.35px;font-size:14.0px;font-weight:bold;color:#141414"><span id="t8" style="display:inline-block;">et Stratégie</span></div>
<div class="tl" style="left:142.0px;top:287.55px;font-size:14.0px;font-weight:bold;color:#141414"><span id="t9" style="display:inline-block;">de l’Entreprise</span></div>
<div class="tl" style="left:142.0px;top:303.75px;font-size:14.0px;font-weight:bold;color:#141414"><span id="t10" style="display:inline-block;">Agricole</span></div>
<div class="tl" style="left:142.0px;top:319.17px;font-size:13.5px;font-weight:normal;color:#555555"><span id="t11" style="display:inline-block;transform:scaleX(0.9589);">Mil : valorisation</span></div>
<div class="tl" style="left:142.0px;top:333.87px;font-size:13.5px;font-weight:normal;color:#555555"><span id="t12" style="display:inline-block;transform:scaleX(0.9630);">du jeune cheval</span></div>
<div class="tl" style="left:378.0px;top:243.15px;font-size:14.0px;font-weight:bold;color:#141414"><span id="t13" style="display:inline-block;transform:scaleX(0.9232);">DE JEPS</span></div>
<div class="tl" style="left:378.0px;top:258.17px;font-size:13.5px;font-weight:normal;color:#555555"><span id="t14" style="display:inline-block;transform:scaleX(0.9154);">Sports Equestres</span></div>
<div class="tl" style="left:378.0px;top:273.87px;font-size:13.5px;font-weight:normal;color:#555555"><span id="t15" style="display:inline-block;transform:scaleX(0.8770);">Support : CSO, Dressage, TREC, Hunter.</span></div>
<div class="tl" style="left:-44.0px;top:427.85px;font-size:14.0px;font-weight:bold;color:#141414"><span id="t16" style="display:inline-block;transform:scaleX(0.9607);">TDE</span></div>
<div class="tl" style="left:-44.0px;top:442.97px;font-size:13.5px;font-weight:normal;color:#555555"><span id="t17" style="display:inline-block;transform:scaleX(0.9468);">Technicien</span></div>
<div class="tl" style="left:-44.0px;top:456.67px;font-size:13.5px;font-weight:normal;color:#555555"><span id="t18" style="display:inline-block;transform:scaleX(0.9495);">Dentaire Equin</span></div>
<div class="tl" style="left:64.5px;top:418.75px;font-size:14.0px;font-weight:bold;color:#141414"><span id="t19" style="display:inline-block;transform:scaleX(0.9368);">CAPa</span></div>
<div class="tl" style="left:64.5px;top:433.87px;font-size:13.5px;font-weight:normal;color:#555555"><span id="t20" style="display:inline-block;transform:scaleX(0.9419);">Palefrenier</span></div>
<div class="tl" style="left:64.5px;top:447.97px;font-size:13.5px;font-weight:normal;color:#555555"><span id="t21" style="display:inline-block;transform:scaleX(0.9547);">Soigneur</span></div>
<div class="tl" style="left:64.5px;top:462.32px;font-size:13.5px;font-weight:normal;color:#555555"><span id="t22" style="display:inline-block;transform:scaleX(0.9796);">Adulte</span></div>
<div class="tl" style="left:172.5px;top:412.55px;font-size:14.0px;font-weight:bold;color:#141414"><span id="t23" style="display:inline-block;transform:scaleX(0.9125);">CS UCAC</span></div>
<div class="tl" style="left:172.5px;top:428.57px;font-size:13.5px;font-weight:normal;color:#555555"><span id="t24" style="display:inline-block;transform:scaleX(0.9630);">Utilisation</span></div>
<div class="tl" style="left:172.5px;top:443.77px;font-size:13.5px;font-weight:normal;color:#555555"><span id="t25" style="display:inline-block;transform:scaleX(0.9630);">et Conduite</span></div>
<div class="tl" style="left:172.5px;top:457.97px;font-size:13.5px;font-weight:normal;color:#555555"><span id="t26" style="display:inline-block;transform:scaleX(0.9630);">d’Attelages</span></div>
<div class="tl" style="left:172.5px;top:472.57px;font-size:13.5px;font-weight:normal;color:#555555"><span id="t27" style="display:inline-block;transform:scaleX(0.9395);">de Chevaux</span></div>
<div class="tl" style="left:299.0px;top:420.95px;font-size:14.0px;font-weight:bold;color:#141414"><span id="t28" style="display:inline-block;transform:scaleX(0.9713);">BP JEPS</span></div>
<div class="tl" style="left:299.0px;top:435.97px;font-size:13.5px;font-weight:normal;color:#555555"><span id="t29" style="display:inline-block;transform:scaleX(0.9798);">Éducateur sportif</span></div>
<div class="tl" style="left:299.0px;top:449.57px;font-size:13.5px;font-weight:normal;color:#555555"><span id="t30" style="display:inline-block;transform:scaleX(0.9630);">Mention</span></div>
<div class="tl" style="left:299.0px;top:464.07px;font-size:13.5px;font-weight:normal;color:#555555"><span id="t31" style="display:inline-block;transform:scaleX(0.9582);">Activités Équestres</span></div>
<div class="tl" style="left:456.0px;top:420.95px;font-size:14.0px;font-weight:bold;color:#141414"><span id="t32" style="display:inline-block;transform:scaleX(0.8927);">CS ETJE</span></div>
<div class="tl" style="left:456.0px;top:435.97px;font-size:13.5px;font-weight:normal;color:#555555"><span id="t33" style="display:inline-block;transform:scaleX(0.9859);">Éducation</span></div>
<div class="tl" style="left:456.0px;top:449.57px;font-size:13.5px;font-weight:normal;color:#555555"><span id="t34" style="display:inline-block;transform:scaleX(0.9529);">et Travail des jeunes</span></div>
<div class="tl" style="left:456.0px;top:464.07px;font-size:13.5px;font-weight:normal;color:#555555"><span id="t35" style="display:inline-block;transform:scaleX(0.9570);">Équidés</span></div>
<div class="tl" style="left:-88.0px;top:577.50px;font-size:15.0px;font-weight:bold;color:#141414"><span id="t36" style="display:inline-block;transform:scaleX(0.8840);">BAC Général</span></div>
<div class="tl" style="left:-88.0px;top:609.80px;font-size:15.0px;font-weight:bold;color:#141414"><span id="t37" style="display:inline-block;transform:scaleX(0.8381);">BAC STAV</span></div>
<div class="tl" style="left:-88.0px;top:641.90px;font-size:15.0px;font-weight:bold;color:#141414"><span id="t38" style="display:inline-block;transform:scaleX(0.9114);">2nde GT</span></div>
<div class="tl" style="left:-88.0px;top:674.00px;font-size:15.0px;font-weight:bold;color:#141414"><span id="t39" style="display:inline-block;transform:scaleX(0.9622);">Option</span></div>
<div class="tl" style="left:-88.0px;top:691.87px;font-size:13.5px;font-weight:normal;color:#555555"><span id="t40" style="display:inline-block;transform:scaleX(0.9703);">Hippologie</span></div>
<div class="tl" style="left:-88.0px;top:707.77px;font-size:13.5px;font-weight:normal;color:#555555"><span id="t41" style="display:inline-block;transform:scaleX(0.9593);">Équitation</span></div>
<div class="tl" style="left:126.5px;top:563.05px;font-size:14.0px;font-weight:bold;color:#141414"><span id="t42" style="display:inline-block;transform:scaleX(0.9558);">BAC Pro CGEH</span></div>
<div class="tl" style="left:126.5px;top:579.27px;font-size:13.5px;font-weight:normal;color:#555555"><span id="t43" style="display:inline-block;transform:scaleX(0.9771);">Conduite et gestion de l’Entreprise Hippique</span></div>
<div class="tl" style="left:61.5px;top:706.75px;font-size:14.0px;font-weight:bold;color:#141414"><span id="t44" style="display:inline-block;transform:scaleX(0.9903);">2<sup>nde</sup> Pro AH</span></div>
<div class="tl" style="left:61.5px;top:720.77px;font-size:13.5px;font-weight:normal;color:#555555"><span id="t45" style="display:inline-block;transform:scaleX(0.9630);">Activités</span></div>
<div class="tl" style="left:61.5px;top:734.27px;font-size:13.5px;font-weight:normal;color:#555555"><span id="t46" style="display:inline-block;transform:scaleX(0.9630);">hippiques</span></div>
<div class="tl" style="left:195.5px;top:684.45px;font-size:14.0px;font-weight:bold;color:#141414"><span id="t47" style="display:inline-block;transform:scaleX(0.9315);">CAPa</span></div>
<div class="tl" style="left:195.5px;top:700.47px;font-size:13.5px;font-weight:normal;color:#555555"><span id="t48" style="display:inline-block;transform:scaleX(0.9630);">Palefrenier</span></div>
<div class="tl" style="left:195.5px;top:716.37px;font-size:13.5px;font-weight:normal;color:#555555"><span id="t49" style="display:inline-block;transform:scaleX(0.9630);">Soigneur</span></div>
<div class="tl" style="left:320.0px;top:704.85px;font-size:14.0px;font-weight:bold;color:#141414"><span id="t50" style="display:inline-block;transform:scaleX(1.0255);">Animateur</span></div>
<div class="tl" style="left:320.0px;top:718.95px;font-size:14.0px;font-weight:bold;color:#141414"><span id="t51" style="display:inline-block;transform:scaleX(1.0261);">d’Equitation</span></div>
<div class="tl" style="left:320.0px;top:734.97px;font-size:13.5px;font-weight:normal;color:#555555"><span id="t52" style="display:inline-block;transform:scaleX(0.8667);">(AE)</span></div>
<div class="tl" style="left:456.5px;top:563.20px;font-size:14.0px;font-weight:bold;color:#141414"><span id="t53" style="display:inline-block;transform:scaleX(1.0179);">Formations</span></div>
<div class="tl" style="left:456.5px;top:579.25px;font-size:14.0px;font-weight:bold;color:#141414"><span id="t54" style="display:inline-block;transform:scaleX(1.0123);">Complémentaires :</span></div>
<div class="tl" style="left:456.5px;top:599.17px;font-size:13.5px;font-weight:normal;color:#555555"><span id="t55" style="display:inline-block;transform:scaleX(0.9119);">Brevet de Surveillant</span></div>
<div class="tl" style="left:456.5px;top:613.77px;font-size:13.5px;font-weight:normal;color:#555555"><span id="t56" style="display:inline-block;transform:scaleX(0.8912);">de Baignade (BSB)</span></div>
<div class="tl" style="left:456.5px;top:632.37px;font-size:13.5px;font-weight:normal;color:#555555"><span id="t57" style="display:inline-block;transform:scaleX(0.9171);">Brevet d’Aptitude aux</span></div>
<div class="tl" style="left:456.5px;top:646.97px;font-size:13.5px;font-weight:normal;color:#555555"><span id="t58" style="display:inline-block;transform:scaleX(0.9268);">Fonctions d’Animateur</span></div>
<div class="tl" style="left:456.5px;top:661.17px;font-size:13.5px;font-weight:normal;color:#555555"><span id="t59" style="display:inline-block;transform:scaleX(0.7859);">(BAFA)</span></div>
<div class="tl" style="left:456.5px;top:680.27px;font-size:13.5px;font-weight:normal;color:#555555"><span id="t60" style="display:inline-block;transform:scaleX(0.9437);">Animateur d’Equitation</span></div>
<div class="tl" style="left:456.5px;top:696.32px;font-size:13.5px;font-weight:normal;color:#555555"><span id="t61" style="display:inline-block;transform:scaleX(0.9630);">(AE)</span></div>
<div class="tl" style="left:456.5px;top:720.05px;font-size:14.0px;font-weight:bold;color:#141414"><span id="t62" style="display:inline-block;transform:scaleX(0.9864);">Options :</span></div>
<div class="tl" style="left:456.5px;top:737.17px;font-size:13.5px;font-weight:normal;color:#555555"><span id="t63" style="display:inline-block;transform:scaleX(0.9431);">Section sportive</span></div>
<div class="tl" style="left:456.5px;top:751.77px;font-size:13.5px;font-weight:normal;color:#555555"><span id="t64" style="display:inline-block;transform:scaleX(0.9552);">Option Sport</span></div>
<div class="tl" style="left:456.5px;top:766.37px;font-size:13.5px;font-weight:normal;color:#555555"><span id="t65" style="display:inline-block;transform:scaleX(0.9351);">Section Européenne</span></div>
<div class="tl" style="left:456.5px;top:780.27px;font-size:13.5px;font-weight:normal;color:#555555"><span id="t66" style="display:inline-block;transform:scaleX(0.9084);">Young Breeders</span></div>
<div class="tl" style="left:2.8px;top:827.40px;font-size:15.0px;font-weight:bold;color:#141414"><span id="t67" style="display:inline-block;transform:scaleX(0.9237);">3<sup>e</sup> Générale</span></div>
<div class="tl" style="left:246.0px;top:810.13px;font-size:14.5px;font-weight:bold;color:#141414"><span id="t68" style="display:inline-block;transform:scaleX(0.9417);">3<sup>e</sup> de</span></div>
<div class="tl" style="left:246.0px;top:826.63px;font-size:14.5px;font-weight:bold;color:#141414"><span id="t69" style="display:inline-block;transform:scaleX(0.9797);">l’Enseignement</span></div>
<div class="tl" style="left:246.0px;top:843.13px;font-size:14.5px;font-weight:bold;color:#141414"><span id="t70" style="display:inline-block;transform:scaleX(0.9342);">Agricole</span></div>
<div class="ll" style="left:327.8px;top:882.83px;font-size:12.6px;font-weight:normal;color:#444"><span id="t71" style="display:inline-block;transform-origin:0 0;transform:scaleX(0.8774);">Voie Scolaire</span></div>
<div class="ll" style="left:327.8px;top:902.33px;font-size:12.6px;font-weight:normal;color:#444"><span id="t72" style="display:inline-block;transform-origin:0 0;transform:scaleX(0.8840);">Voie Scolaire et apprentissage</span></div>
<div class="ll" style="left:327.8px;top:921.83px;font-size:12.6px;font-weight:normal;color:#444"><span id="t73" style="display:inline-block;transform-origin:0 0;transform:scaleX(0.9121);">Apprentissage ou formation continue</span></div>
<div class="ll" style="left:553.9px;top:902.93px;font-size:12.6px;font-weight:normal;color:#444"><span id="t74" style="display:inline-block;transform-origin:0 0;transform:scaleX(0.8776);">Lycée Agricole Lons-le-Saunier Mancy</span></div>
<div class="ll" style="left:553.9px;top:920.63px;font-size:12.6px;font-weight:normal;color:#444"><span id="t75" style="display:inline-block;transform-origin:0 0;transform:scaleX(0.8832);">Lycée Agricole Montmorot Edgar Faure</span></div>
<div class="ll" style="left:274.3px;top:995.19px;font-size:11.0px;font-weight:normal;color:#999999"><span id="t76" style="display:inline-block;transform-origin:0 0;transform:scaleX(0.8830);">Lycée :legta.lons-le-saunier@educagri.fr&nbsp; - CFA FC : cfa.lons-le-saunier@educagri.fr</span></div>
<div class="ll" style="left:279.5px;top:1043.29px;font-size:13.6px;font-weight:normal;color:#333"><span id="t77" style="display:inline-block;transform-origin:0 0;transform:scaleX(0.8243);">410 montée Gauthier Villars - BP 50320 - 39015 Lons-le-Saunier Cedex</span></div><svg class="abs" style="left:0;top:0" width="768" height="220" viewBox="0 0 768 220">
<circle cx="90.8" cy="90.4" r="47" fill="#fe2d39"/>
<g fill="none" stroke="#fff" stroke-width="2.5" stroke-linecap="round" stroke-linejoin="round">
<path d="M53.5,116.2 C56.5,111 57.8,104 58.4,97 C59,88 59.6,80 64.5,72.5 C69.5,65.5 77,60.5 86.5,57.5 C93,55.7 101,55.6 108,57.4 L118.6,58.6 L110.8,62.3 L105,60.6"/>
<path d="M62.8,98.5 C62.2,90 62.8,80.5 68.6,73.3 C72.5,68.3 78.5,64 86.5,61.2 C92.5,59.4 98,59.3 102.6,59.8"/>
<path d="M110.8,63.8 C113.8,67.5 115.4,72.5 116.6,78.5 C117.8,85.5 119.2,91 121.4,95.2 C123.8,99.5 127,103.5 128,107.5 C128.7,111.5 126.8,114.8 123.2,115.6 C120.2,116.2 117.2,115.6 115.3,113.6 C114,111.8 114.3,109 114.1,107.3 C110,103.2 105,98.8 101.2,96 C99.4,94.6 97.6,93.2 95.8,92.3"/>
<path d="M95.8,92.3 L104.6,95"/>
</g>
<path d="M94.5,71 C88.5,75.5 84,82 82.3,90 C81.3,97.5 83.3,103.5 88.6,109 C87,102.5 86.8,96.5 88.8,90.5 C90.2,84.5 92,77.5 94.5,71 Z" fill="#fff"/>
<path d="M89.4,89.5 C90,96 92,102 98.2,109.5 C95.6,103 94,97 93.6,90.8 Z" fill="#fff"/>
<ellipse cx="109" cy="75" rx="2.4" ry="1.9" fill="none" stroke="#fff" stroke-width="1.4"/>
<text x="145.6" y="103" font-family="Liberation Sans" font-size="32.5" fill="#f23540" stroke="#f23540" stroke-width="1.3" textLength="270" lengthAdjust="spacingAndGlyphs">Métiers du cheval</text>
<rect x="42" y="171.5" width="145" height="1.2" fill="#8a8f99"/>
<text x="41" y="200" font-family="Liberation Sans" font-size="21.6" fill="#0d3a7c" stroke="#0d3a7c" stroke-width="1.25" textLength="307.5" lengthAdjust="spacingAndGlyphs">PARCOURS DE FORMATION</text>
</svg>
<svg class="abs" style="left:0;top:870px" width="768" height="80" viewBox="0 870 768 80">
<circle cx="315.2" cy="888.6" r="5.8" fill="none" stroke="#e8323c" stroke-width="2.2"/>
<circle cx="315.2" cy="908.1" r="5.8" fill="none" stroke="#5ee02c" stroke-width="2.2"/>
<circle cx="315.2" cy="927.3" r="5.8" fill="none" stroke="#2fe2ea" stroke-width="2.2"/>
<circle cx="542" cy="908.7" r="6.4" fill="#c8f7ad"/>
<circle cx="542" cy="926.5" r="6.4" fill="#b3f5f8"/>
</svg>
<svg class="abs" style="left:0;top:960px" width="768" height="127" viewBox="0 960 768 127">
<polygon points="0,1017.2 49,1017.2 42.2,1034 0,1034" fill="#003882"/>
<polygon points="253.4,1017 648.8,1017 648.8,1033.7 261.2,1033.7 254.7,1051 34.9,1051 41.7,1033.7 246.2,1033.7" fill="#003882"/>
<g fill="#003882">
<rect x="74.1" y="974.4" width="7" height="34"/>
<polygon points="74.1,974.4 84.5,974.4 100.5,992.5 97,997.5 74.1,983"/>
<polygon points="119.2,1008.4 133.3,974.4 142.7,974.4 156.7,1008.4 148.8,1008.4 146,1001.2 130.2,1001.2 127.2,1008.4 M132.5,995.2 143.6,995.2 138,981"/>
<rect x="159.4" y="974.4" width="7" height="34.3"/>
<rect x="180.3" y="974.4" width="7" height="34.3"/>
<polygon points="159.4,974.4 166.8,974.4 187.3,1008.7 179.9,1008.7"/>
</g>
<polygon points="132.5,995.2 143.6,995.2 138,981.5" fill="#fff"/>
<polygon points="93,993 105,974.4 113,974.4 97,997.5" fill="#f5333d"/>
<rect x="109.3" y="974.4" width="6.8" height="34" fill="#f5333d"/>
<path d="M220.9,980.6 A14.45,14.45 0 1 0 220.9,1002.5" fill="none" stroke="#003882" stroke-width="7"/>
<polygon points="250.5,974.4 261.8,974.4 226.8,1026.7 215.8,1026.7" fill="#66e026"/>
<polygon points="223.8,974.4 234.6,974.4 248.2,990.8 242,999" fill="#66e026"/>
<text x="72.3" y="1028.4" font-family="Liberation Sans" font-size="16" fill="#1d3f8a" textLength="137.6" lengthAdjust="spacingAndGlyphs">Lons-le-Saunier</text>
<text x="46.9" y="1048" font-family="Liberation Sans" font-weight="bold" font-size="12.2" fill="#fff" textLength="201" lengthAdjust="spacingAndGlyphs">LYCÉE - CFA - FERME EQUESTRE</text>
<text x="262.3" y="1028" font-family="Liberation Sans" font-size="11" fill="#fff" stroke="#fff" stroke-width="0.35" textLength="378" lengthAdjust="spacing">Tél:03.84.47.16.77-www.lons-mancy.fr</text>
<path fill="#111" d="M657.15,986.85h3.23v3.23h-3.23zM660.08,986.85h3.23v3.23h-3.23zM663.01,986.85h3.23v3.23h-3.23zM665.95,986.85h3.23v3.23h-3.23zM668.88,986.85h3.23v3.23h-3.23zM671.81,986.85h3.23v3.23h-3.23zM674.74,986.85h3.23v3.23h-3.23zM680.61,986.85h3.23v3.23h-3.23zM683.54,986.85h3.23v3.23h-3.23zM686.47,986.85h3.23v3.23h-3.23zM689.40,986.85h3.23v3.23h-3.23zM692.33,986.85h3.23v3.23h-3.23zM698.20,986.85h3.23v3.23h-3.23zM701.13,986.85h3.23v3.23h-3.23zM709.93,986.85h3.23v3.23h-3.23zM712.86,986.85h3.23v3.23h-3.23zM715.79,986.85h3.23v3.23h-3.23zM718.72,986.85h3.23v3.23h-3.23zM721.65,986.85h3.23v3.23h-3.23zM724.59,986.85h3.23v3.23h-3.23zM727.52,986.85h3.23v3.23h-3.23zM657.15,989.78h3.23v3.23h-3.23zM674.74,989.78h3.23v3.23h-3.23zM680.61,989.78h3.23v3.23h-3.23zM683.54,989.78h3.23v3.23h-3.23zM686.47,989.78h3.23v3.23h-3.23zM692.33,989.78h3.23v3.23h-3.23zM695.27,989.78h3.23v3.23h-3.23zM701.13,989.78h3.23v3.23h-3.23zM704.06,989.78h3.23v3.23h-3.23zM709.93,989.78h3.23v3.23h-3.23zM727.52,989.78h3.23v3.23h-3.23zM657.15,992.71h3.23v3.23h-3.23zM663.01,992.71h3.23v3.23h-3.23zM665.95,992.71h3.23v3.23h-3.23zM668.88,992.71h3.23v3.23h-3.23zM674.74,992.71h3.23v3.23h-3.23zM689.40,992.71h3.23v3.23h-3.23zM701.13,992.71h3.23v3.23h-3.23zM709.93,992.71h3.23v3.23h-3.23zM715.79,992.71h3.23v3.23h-3.23zM718.72,992.71h3.23v3.23h-3.23zM721.65,992.71h3.23v3.23h-3.23zM727.52,992.71h3.23v3.23h-3.23zM657.15,995.65h3.23v3.23h-3.23zM663.01,995.65h3.23v3.23h-3.23zM665.95,995.65h3.23v3.23h-3.23zM668.88,995.65h3.23v3.23h-3.23zM674.74,995.65h3.23v3.23h-3.23zM683.54,995.65h3.23v3.23h-3.23zM686.47,995.65h3.23v3.23h-3.23zM689.40,995.65h3.23v3.23h-3.23zM695.27,995.65h3.23v3.23h-3.23zM698.20,995.65h3.23v3.23h-3.23zM709.93,995.65h3.23v3.23h-3.23zM715.79,995.65h3.23v3.23h-3.23zM718.72,995.65h3.23v3.23h-3.23zM721.65,995.65h3.23v3.23h-3.23zM727.52,995.65h3.23v3.23h-3.23zM657.15,998.58h3.23v3.23h-3.23zM663.01,998.58h3.23v3.23h-3.23zM665.95,998.58h3.23v3.23h-3.23zM668.88,998.58h3.23v3.23h-3.23zM674.74,998.58h3.23v3.23h-3.23zM680.61,998.58h3.23v3.23h-3.23zM701.13,998.58h3.23v3.23h-3.23zM709.93,998.58h3.23v3.23h-3.23zM715.79,998.58h3.23v3.23h-3.23zM718.72,998.58h3.23v3.23h-3.23zM721.65,998.58h3.23v3.23h-3.23zM727.52,998.58h3.23v3.23h-3.23zM657.15,1001.51h3.23v3.23h-3.23zM674.74,1001.51h3.23v3.23h-3.23zM680.61,1001.51h3.23v3.23h-3.23zM683.54,1001.51h3.23v3.23h-3.23zM692.33,1001.51h3.23v3.23h-3.23zM695.27,1001.51h3.23v3.23h-3.23zM698.20,1001.51h3.23v3.23h-3.23zM701.13,1001.51h3.23v3.23h-3.23zM704.06,1001.51h3.23v3.23h-3.23zM709.93,1001.51h3.23v3.23h-3.23zM727.52,1001.51h3.23v3.23h-3.23zM657.15,1004.44h3.23v3.23h-3.23zM660.08,1004.44h3.23v3.23h-3.23zM663.01,1004.44h3.23v3.23h-3.23zM665.95,1004.44h3.23v3.23h-3.23zM668.88,1004.44h3.23v3.23h-3.23zM671.81,1004.44h3.23v3.23h-3.23zM674.74,1004.44h3.23v3.23h-3.23zM680.61,1004.44h3.23v3.23h-3.23zM686.47,1004.44h3.23v3.23h-3.23zM692.33,1004.44h3.23v3.23h-3.23zM698.20,1004.44h3.23v3.23h-3.23zM704.06,1004.44h3.23v3.23h-3.23zM709.93,1004.44h3.23v3.23h-3.23zM712.86,1004.44h3.23v3.23h-3.23zM715.79,1004.44h3.23v3.23h-3.23zM718.72,1004.44h3.23v3.23h-3.23zM721.65,1004.44h3.23v3.23h-3.23zM724.59,1004.44h3.23v3.23h-3.23zM727.52,1004.44h3.23v3.23h-3.23zM686.47,1007.37h3.23v3.23h-3.23zM698.20,1007.37h3.23v3.23h-3.23zM701.13,1007.37h3.23v3.23h-3.23zM704.06,1007.37h3.23v3.23h-3.23zM657.15,1010.31h3.23v3.23h-3.23zM671.81,1010.31h3.23v3.23h-3.23zM674.74,1010.31h3.23v3.23h-3.23zM680.61,1010.31h3.23v3.23h-3.23zM689.40,1010.31h3.23v3.23h-3.23zM692.33,1010.31h3.23v3.23h-3.23zM701.13,1010.31h3.23v3.23h-3.23zM704.06,1010.31h3.23v3.23h-3.23zM706.99,1010.31h3.23v3.23h-3.23zM715.79,1010.31h3.23v3.23h-3.23zM727.52,1010.31h3.23v3.23h-3.23zM660.08,1013.24h3.23v3.23h-3.23zM663.01,1013.24h3.23v3.23h-3.23zM677.67,1013.24h3.23v3.23h-3.23zM686.47,1013.24h3.23v3.23h-3.23zM689.40,1013.24h3.23v3.23h-3.23zM692.33,1013.24h3.23v3.23h-3.23zM695.27,1013.24h3.23v3.23h-3.23zM701.13,1013.24h3.23v3.23h-3.23zM704.06,1013.24h3.23v3.23h-3.23zM706.99,1013.24h3.23v3.23h-3.23zM712.86,1013.24h3.23v3.23h-3.23zM715.79,1013.24h3.23v3.23h-3.23zM724.59,1013.24h3.23v3.23h-3.23zM665.95,1016.17h3.23v3.23h-3.23zM668.88,1016.17h3.23v3.23h-3.23zM671.81,1016.17h3.23v3.23h-3.23zM674.74,1016.17h3.23v3.23h-3.23zM680.61,1016.17h3.23v3.23h-3.23zM683.54,1016.17h3.23v3.23h-3.23zM692.33,1016.17h3.23v3.23h-3.23zM704.06,1016.17h3.23v3.23h-3.23zM709.93,1016.17h3.23v3.23h-3.23zM712.86,1016.17h3.23v3.23h-3.23zM657.15,1019.10h3.23v3.23h-3.23zM671.81,1019.10h3.23v3.23h-3.23zM677.67,1019.10h3.23v3.23h-3.23zM692.33,1019.10h3.23v3.23h-3.23zM704.06,1019.10h3.23v3.23h-3.23zM706.99,1019.10h3.23v3.23h-3.23zM709.93,1019.10h3.23v3.23h-3.23zM712.86,1019.10h3.23v3.23h-3.23zM715.79,1019.10h3.23v3.23h-3.23zM718.72,1019.10h3.23v3.23h-3.23zM657.15,1022.03h3.23v3.23h-3.23zM665.95,1022.03h3.23v3.23h-3.23zM674.74,1022.03h3.23v3.23h-3.23zM680.61,1022.03h3.23v3.23h-3.23zM683.54,1022.03h3.23v3.23h-3.23zM692.33,1022.03h3.23v3.23h-3.23zM695.27,1022.03h3.23v3.23h-3.23zM701.13,1022.03h3.23v3.23h-3.23zM704.06,1022.03h3.23v3.23h-3.23zM706.99,1022.03h3.23v3.23h-3.23zM712.86,1022.03h3.23v3.23h-3.23zM718.72,1022.03h3.23v3.23h-3.23zM721.65,1022.03h3.23v3.23h-3.23zM724.59,1022.03h3.23v3.23h-3.23zM660.08,1024.97h3.23v3.23h-3.23zM671.81,1024.97h3.23v3.23h-3.23zM677.67,1024.97h3.23v3.23h-3.23zM683.54,1024.97h3.23v3.23h-3.23zM686.47,1024.97h3.23v3.23h-3.23zM689.40,1024.97h3.23v3.23h-3.23zM698.20,1024.97h3.23v3.23h-3.23zM701.13,1024.97h3.23v3.23h-3.23zM712.86,1024.97h3.23v3.23h-3.23zM715.79,1024.97h3.23v3.23h-3.23zM721.65,1024.97h3.23v3.23h-3.23zM724.59,1024.97h3.23v3.23h-3.23zM663.01,1027.90h3.23v3.23h-3.23zM668.88,1027.90h3.23v3.23h-3.23zM674.74,1027.90h3.23v3.23h-3.23zM677.67,1027.90h3.23v3.23h-3.23zM686.47,1027.90h3.23v3.23h-3.23zM689.40,1027.90h3.23v3.23h-3.23zM695.27,1027.90h3.23v3.23h-3.23zM698.20,1027.90h3.23v3.23h-3.23zM701.13,1027.90h3.23v3.23h-3.23zM704.06,1027.90h3.23v3.23h-3.23zM706.99,1027.90h3.23v3.23h-3.23zM709.93,1027.90h3.23v3.23h-3.23zM712.86,1027.90h3.23v3.23h-3.23zM718.72,1027.90h3.23v3.23h-3.23zM724.59,1027.90h3.23v3.23h-3.23zM727.52,1027.90h3.23v3.23h-3.23zM657.15,1030.83h3.23v3.23h-3.23zM660.08,1030.83h3.23v3.23h-3.23zM663.01,1030.83h3.23v3.23h-3.23zM671.81,1030.83h3.23v3.23h-3.23zM680.61,1030.83h3.23v3.23h-3.23zM686.47,1030.83h3.23v3.23h-3.23zM689.40,1030.83h3.23v3.23h-3.23zM695.27,1030.83h3.23v3.23h-3.23zM706.99,1030.83h3.23v3.23h-3.23zM718.72,1030.83h3.23v3.23h-3.23zM721.65,1030.83h3.23v3.23h-3.23zM724.59,1030.83h3.23v3.23h-3.23zM727.52,1030.83h3.23v3.23h-3.23zM657.15,1033.76h3.23v3.23h-3.23zM663.01,1033.76h3.23v3.23h-3.23zM665.95,1033.76h3.23v3.23h-3.23zM668.88,1033.76h3.23v3.23h-3.23zM674.74,1033.76h3.23v3.23h-3.23zM680.61,1033.76h3.23v3.23h-3.23zM683.54,1033.76h3.23v3.23h-3.23zM686.47,1033.76h3.23v3.23h-3.23zM689.40,1033.76h3.23v3.23h-3.23zM692.33,1033.76h3.23v3.23h-3.23zM695.27,1033.76h3.23v3.23h-3.23zM698.20,1033.76h3.23v3.23h-3.23zM704.06,1033.76h3.23v3.23h-3.23zM706.99,1033.76h3.23v3.23h-3.23zM709.93,1033.76h3.23v3.23h-3.23zM712.86,1033.76h3.23v3.23h-3.23zM715.79,1033.76h3.23v3.23h-3.23zM718.72,1033.76h3.23v3.23h-3.23zM721.65,1033.76h3.23v3.23h-3.23zM724.59,1033.76h3.23v3.23h-3.23zM727.52,1033.76h3.23v3.23h-3.23zM680.61,1036.69h3.23v3.23h-3.23zM683.54,1036.69h3.23v3.23h-3.23zM686.47,1036.69h3.23v3.23h-3.23zM704.06,1036.69h3.23v3.23h-3.23zM715.79,1036.69h3.23v3.23h-3.23zM724.59,1036.69h3.23v3.23h-3.23zM657.15,1039.63h3.23v3.23h-3.23zM660.08,1039.63h3.23v3.23h-3.23zM663.01,1039.63h3.23v3.23h-3.23zM665.95,1039.63h3.23v3.23h-3.23zM668.88,1039.63h3.23v3.23h-3.23zM671.81,1039.63h3.23v3.23h-3.23zM674.74,1039.63h3.23v3.23h-3.23zM698.20,1039.63h3.23v3.23h-3.23zM701.13,1039.63h3.23v3.23h-3.23zM704.06,1039.63h3.23v3.23h-3.23zM709.93,1039.63h3.23v3.23h-3.23zM715.79,1039.63h3.23v3.23h-3.23zM727.52,1039.63h3.23v3.23h-3.23zM657.15,1042.56h3.23v3.23h-3.23zM674.74,1042.56h3.23v3.23h-3.23zM680.61,1042.56h3.23v3.23h-3.23zM683.54,1042.56h3.23v3.23h-3.23zM686.47,1042.56h3.23v3.23h-3.23zM692.33,1042.56h3.23v3.23h-3.23zM701.13,1042.56h3.23v3.23h-3.23zM704.06,1042.56h3.23v3.23h-3.23zM715.79,1042.56h3.23v3.23h-3.23zM721.65,1042.56h3.23v3.23h-3.23zM724.59,1042.56h3.23v3.23h-3.23zM727.52,1042.56h3.23v3.23h-3.23zM657.15,1045.49h3.23v3.23h-3.23zM663.01,1045.49h3.23v3.23h-3.23zM665.95,1045.49h3.23v3.23h-3.23zM668.88,1045.49h3.23v3.23h-3.23zM674.74,1045.49h3.23v3.23h-3.23zM683.54,1045.49h3.23v3.23h-3.23zM689.40,1045.49h3.23v3.23h-3.23zM692.33,1045.49h3.23v3.23h-3.23zM695.27,1045.49h3.23v3.23h-3.23zM701.13,1045.49h3.23v3.23h-3.23zM704.06,1045.49h3.23v3.23h-3.23zM706.99,1045.49h3.23v3.23h-3.23zM709.93,1045.49h3.23v3.23h-3.23zM712.86,1045.49h3.23v3.23h-3.23zM715.79,1045.49h3.23v3.23h-3.23zM721.65,1045.49h3.23v3.23h-3.23zM724.59,1045.49h3.23v3.23h-3.23zM727.52,1045.49h3.23v3.23h-3.23zM657.15,1048.42h3.23v3.23h-3.23zM663.01,1048.42h3.23v3.23h-3.23zM665.95,1048.42h3.23v3.23h-3.23zM668.88,1048.42h3.23v3.23h-3.23zM674.74,1048.42h3.23v3.23h-3.23zM689.40,1048.42h3.23v3.23h-3.23zM695.27,1048.42h3.23v3.23h-3.23zM698.20,1048.42h3.23v3.23h-3.23zM701.13,1048.42h3.23v3.23h-3.23zM704.06,1048.42h3.23v3.23h-3.23zM706.99,1048.42h3.23v3.23h-3.23zM709.93,1048.42h3.23v3.23h-3.23zM712.86,1048.42h3.23v3.23h-3.23zM715.79,1048.42h3.23v3.23h-3.23zM718.72,1048.42h3.23v3.23h-3.23zM724.59,1048.42h3.23v3.23h-3.23zM657.15,1051.35h3.23v3.23h-3.23zM663.01,1051.35h3.23v3.23h-3.23zM665.95,1051.35h3.23v3.23h-3.23zM668.88,1051.35h3.23v3.23h-3.23zM674.74,1051.35h3.23v3.23h-3.23zM686.47,1051.35h3.23v3.23h-3.23zM689.40,1051.35h3.23v3.23h-3.23zM692.33,1051.35h3.23v3.23h-3.23zM695.27,1051.35h3.23v3.23h-3.23zM698.20,1051.35h3.23v3.23h-3.23zM704.06,1051.35h3.23v3.23h-3.23zM709.93,1051.35h3.23v3.23h-3.23zM712.86,1051.35h3.23v3.23h-3.23zM718.72,1051.35h3.23v3.23h-3.23zM721.65,1051.35h3.23v3.23h-3.23zM657.15,1054.29h3.23v3.23h-3.23zM674.74,1054.29h3.23v3.23h-3.23zM680.61,1054.29h3.23v3.23h-3.23zM689.40,1054.29h3.23v3.23h-3.23zM692.33,1054.29h3.23v3.23h-3.23zM698.20,1054.29h3.23v3.23h-3.23zM701.13,1054.29h3.23v3.23h-3.23zM704.06,1054.29h3.23v3.23h-3.23zM706.99,1054.29h3.23v3.23h-3.23zM715.79,1054.29h3.23v3.23h-3.23zM721.65,1054.29h3.23v3.23h-3.23zM727.52,1054.29h3.23v3.23h-3.23zM657.15,1057.22h3.23v3.23h-3.23zM660.08,1057.22h3.23v3.23h-3.23zM663.01,1057.22h3.23v3.23h-3.23zM665.95,1057.22h3.23v3.23h-3.23zM668.88,1057.22h3.23v3.23h-3.23zM671.81,1057.22h3.23v3.23h-3.23zM674.74,1057.22h3.23v3.23h-3.23zM680.61,1057.22h3.23v3.23h-3.23zM683.54,1057.22h3.23v3.23h-3.23zM686.47,1057.22h3.23v3.23h-3.23zM689.40,1057.22h3.23v3.23h-3.23zM692.33,1057.22h3.23v3.23h-3.23zM695.27,1057.22h3.23v3.23h-3.23zM698.20,1057.22h3.23v3.23h-3.23zM701.13,1057.22h3.23v3.23h-3.23zM712.86,1057.22h3.23v3.23h-3.23zM715.79,1057.22h3.23v3.23h-3.23zM721.65,1057.22h3.23v3.23h-3.23zM724.59,1057.22h3.23v3.23h-3.23zM727.52,1057.22h3.23v3.23h-3.23z"/>
</svg>
</body></html>
